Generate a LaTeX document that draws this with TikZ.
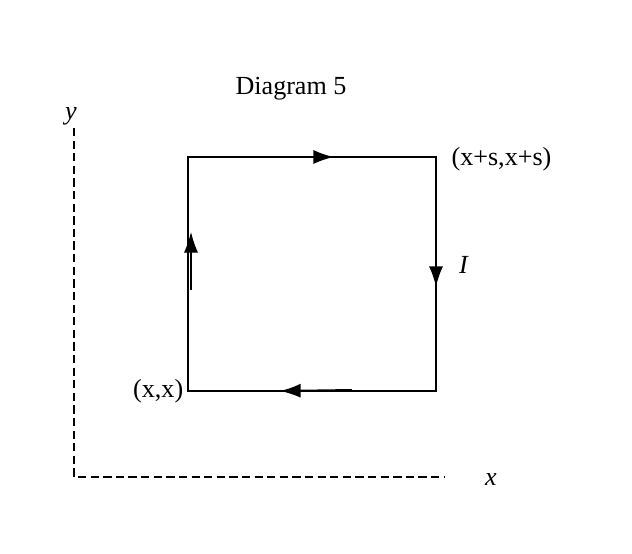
\documentclass[tikz,border=0pt]{standalone}
\usepackage{fontspec}
\setmainfont{Liberation Serif}
\usetikzlibrary{arrows.meta}

\tikzset{
  loopline/.style={line width=1.1pt},
  axisline/.style={line width=0.65pt,dash pattern=on 3.8pt off 2pt},
  flow/.style={line width=0.9pt,-{Latex[length=9.5pt,width=6.5pt]}},
  lbl/.style={inner sep=0pt,font=\fontsize{12}{14}\selectfont}
}

\begin{document}
\begin{tikzpicture}[x=0.46pt,y=-0.46pt]
  \useasboundingbox (0,0) rectangle (632,554);
  % axes
  \coordinate (O) at (74,477);
  \coordinate (ytop) at (74,128);
  \coordinate (xend) at (444,477);
  \draw[axisline] (ytop) -- (O) -- (xend);
  \node[lbl] (ylab) at (71,116) {\textit{y}};
  \node[lbl] (xlab) at (491,480) {\textit{x}};
  \node[lbl] (title) at (291,89) {Diagram 5};
  % the loop
  \coordinate (A) at (188,391);
  \coordinate (B) at (188,157);
  \coordinate (C) at (436,157);
  \coordinate (D) at (436,391);
  \draw[loopline] (A) -- (B) -- (C) -- (D) -- cycle;
  \node[lbl,anchor=east] (start) at ([xshift=-2pt,yshift=0pt]A) {(x,x)};
  \node[lbl,anchor=west] (corner) at ([xshift=7pt,yshift=-1.2pt]C) {(x+s,x+s)};
  \node[lbl] (cur) at (464,265) {\textit{I}};
  % current arrows
  \coordinate (t1) at (275,157);
  \coordinate (t2) at (334,157);
  \coordinate (r1) at (436,232);
  \coordinate (r2) at (436,287);
  \coordinate (b1) at (352,390);
  \coordinate (b2) at (280,391);
  \coordinate (l1) at (191,290);
  \coordinate (l2) at (191,232);
  \draw[flow] (t1) -- (t2);
  \draw[flow] (r1) -- (r2);
  \draw[flow] (b1) -- (b2);
  \draw[flow,line width=0.5pt] (l1) -- (l2);
\end{tikzpicture}
\end{document}
